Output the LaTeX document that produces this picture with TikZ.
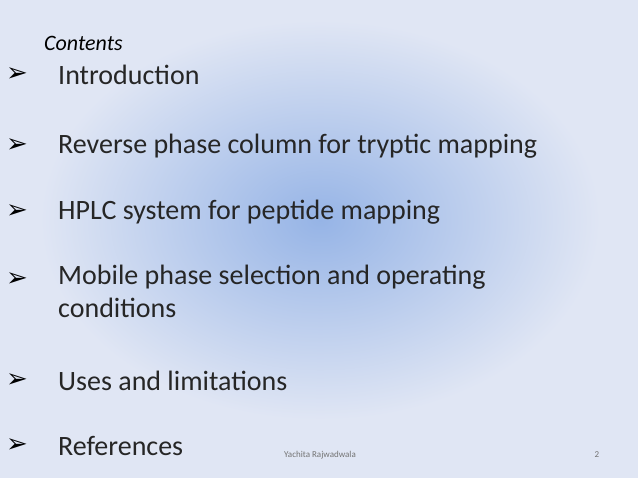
\documentclass[tikz,border=0pt]{standalone}
\usepackage{fontspec}
\setmainfont{Carlito}
\newfontfamily\symf{DejaVu Sans}
\definecolor{bgout}{RGB}{224,230,244}
\definecolor{bgin}{RGB}{150,180,230}
\begin{document}
\begin{tikzpicture}[x=1pt,y=-1pt,
  item/.style={anchor=west,font=\fontsize{28}{33}\selectfont,text=black!85,align=left,inner sep=0pt},
  arr/.style={anchor=west,font=\symf\bfseries\fontsize{26}{30}\selectfont,inner sep=0pt},
  foot/.style={font=\fontsize{9}{11}\selectfont,text=black!55,inner sep=0pt}]
\useasboundingbox (0,0) rectangle (638,478);
\fill[bgout] (0,0) rectangle (638,478);
\shade[inner color=bgin,outer color=bgout] (40,20) rectangle (600,420);
\node[anchor=west,font=\itshape\fontsize{22}{26}\selectfont,inner sep=0pt] (t) at (44,43) {Contents};
\foreach \y/\n/\t in {75/a/Introduction,146/b/Reverse phase column for tryptic mapping,212/c/HPLC system for peptide mapping,381/e/Uses and limitations,446/f/References}{
  \node[arr] (s\n) at (6,\y) {➢};
  \node[item] (\n) at (58,\y) {\t};
}
\node[arr] (sd) at (6,280) {➢};
\node[item,anchor=north west] (d) at (58,265) {Mobile phase selection and operating\\conditions};
\node[foot] (n) at (320,455) {Yachita Rajwadwala};
\node[foot] (p) at (597,455) {2};
\end{tikzpicture}
\end{document}
